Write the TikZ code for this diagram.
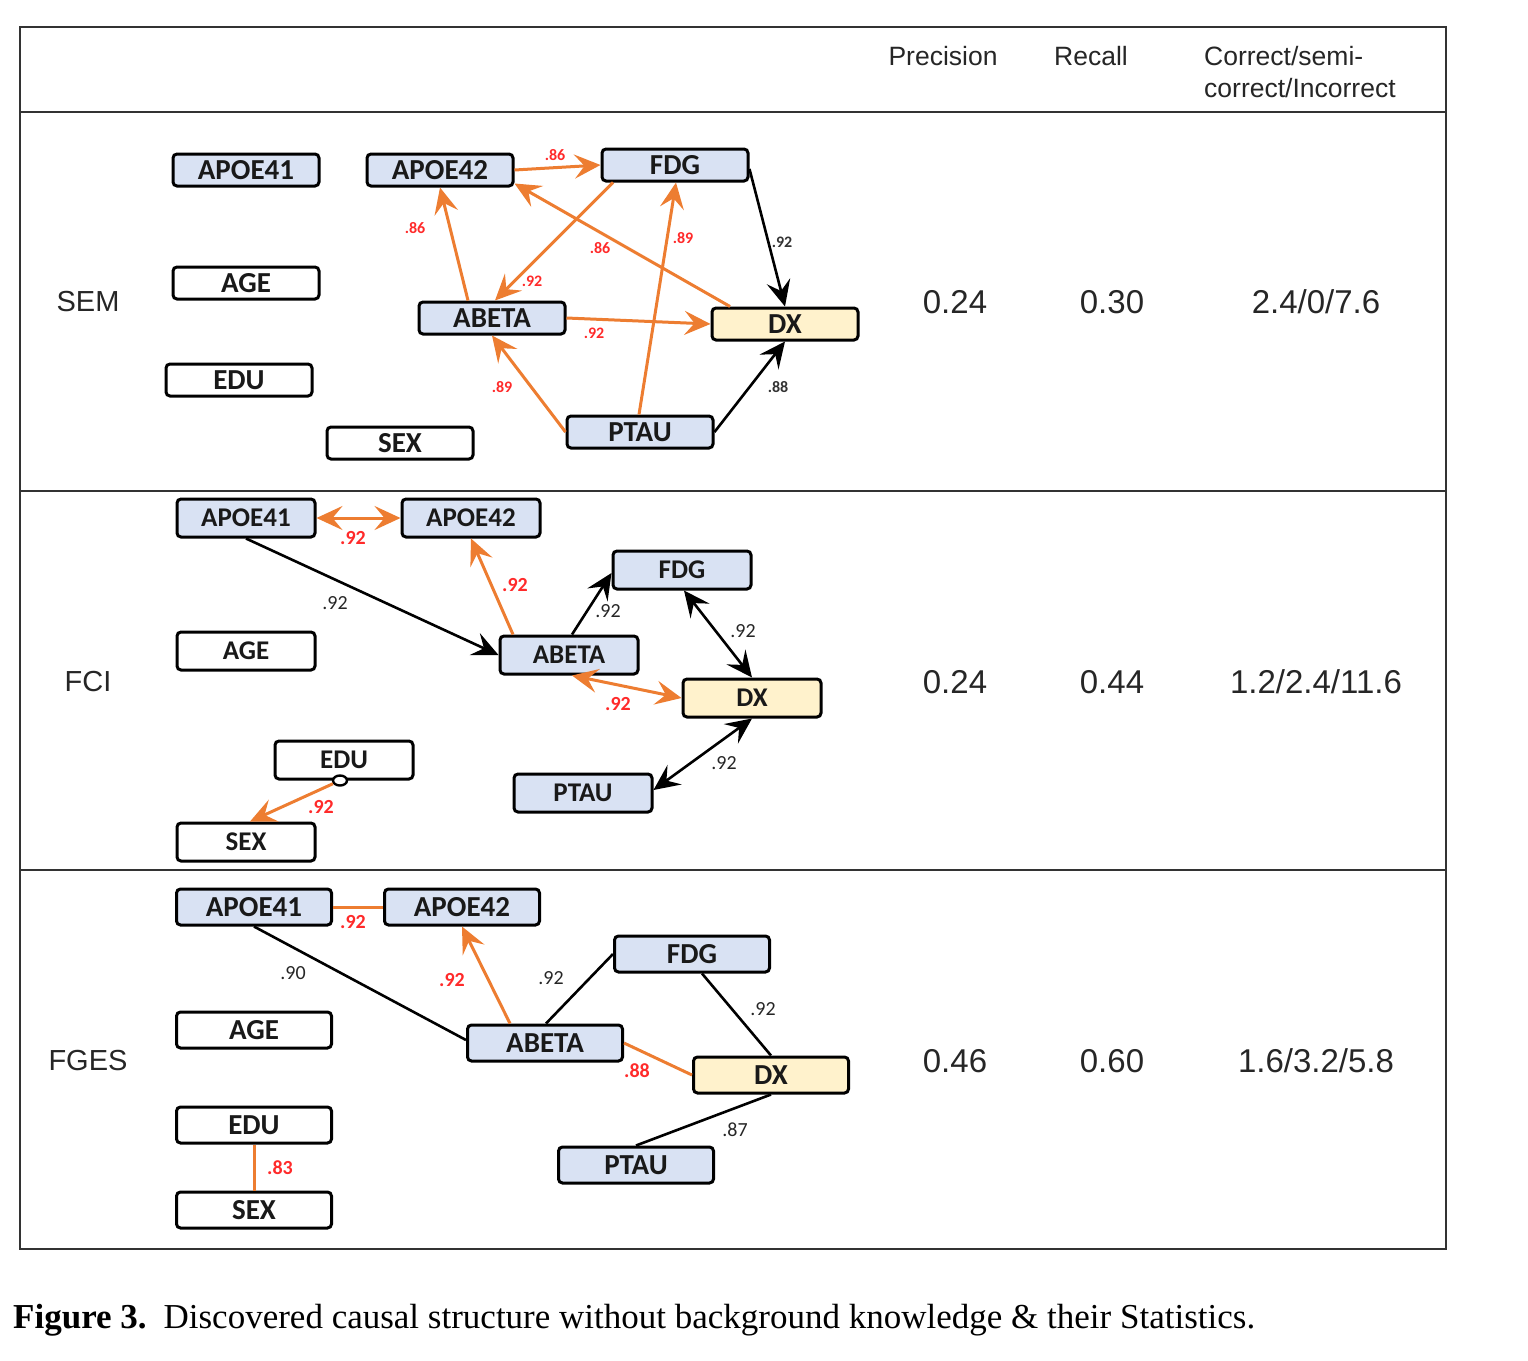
\documentclass[tikz,border=0pt]{standalone}
\usepackage{fontspec}
\setmainfont{Liberation Serif}
\setsansfont{Liberation Sans}
\newfontfamily\nodefont{Carlito}
\usetikzlibrary{arrows.meta,shapes.geometric}
\definecolor{orng}{HTML}{ED7D31}
\definecolor{nblue}{HTML}{D9E2F3}
\definecolor{nyel}{HTML}{FFF2CC}
\definecolor{lred}{HTML}{FF2A2A}
\definecolor{frm}{HTML}{333333}
\tikzset{
  vbox/.style={draw=black, line width=3pt, rounded corners=4pt, inner sep=0pt, font=\nodefont\bfseries\fontsize{29}{29}\selectfont, text=black!90},
  bl/.style={vbox, fill=nblue},
  ye/.style={vbox, fill=nyel},
  wh/.style={vbox, fill=white},
  semb/.style={minimum width=146pt, minimum height=32pt},
  fcib/.style={minimum width=138pt, minimum height=38pt, font=\nodefont\bfseries\fontsize{27}{27}\selectfont},
  fgesb/.style={minimum width=155pt, minimum height=36pt},
  oe/.style={draw=orng, line width=3pt},
  be/.style={draw=black, line width=2.6pt},
  tip/.style={-{Stealth[length=26pt,width=24pt,inset=10pt]}},
  dtip/.style={{Stealth[length=26pt,width=24pt,inset=10pt]}-{Stealth[length=26pt,width=24pt,inset=10pt]}},
  rl/.style={text=lred, font=\nodefont\bfseries\fontsize{16}{16}\selectfont, inner sep=0pt},
  kl/.style={text=black!80, font=\nodefont\bfseries\fontsize{16}{16}\selectfont, inner sep=0pt},
  rlb/.style={text=lred, font=\nodefont\bfseries\fontsize{20}{20}\selectfont, inner sep=0pt},
  klb/.style={text=black!85, font=\nodefont\fontsize{20}{20}\selectfont, inner sep=0pt},
  hd/.style={font=\sffamily\fontsize{26.5}{32}\selectfont, text=black!85, inner sep=0pt},
  val/.style={font=\sffamily\fontsize{33}{33}\selectfont, text=black!85, inner sep=0pt},
  rowl/.style={font=\sffamily\fontsize{29}{29}\selectfont, text=black!85, inner sep=0pt},
  frame/.style={draw=frm, line width=2.5pt}
}
\begin{document}
\begin{tikzpicture}[x=1pt,y=-1pt]
\useasboundingbox (0,0) rectangle (1528,1360);
% frame
\draw[frame] (20,27) rectangle (1446,1249);
\draw[frame] (20,112) -- (1446,112);
\draw[frame] (20,491) -- (1446,491);
\draw[frame] (20,870) -- (1446,870);
% header
\node[hd] (hprec) at (943,56) {Precision};
\node[hd] (hrec) at (1091,56) {Recall};
\node[hd, anchor=west, align=left] (hcor) at (1204,72) {Correct/semi-\\correct/Incorrect};
% row labels and values
\node[rowl] (rsem) at (88,302) {SEM};
\node[rowl] (rfci) at (88,682) {FCI};
\node[rowl] (rfges) at (88,1061) {FGES};
\node[val] (v11) at (955,302) {0.24};
\node[val] (v12) at (1112,302) {0.30};
\node[val] (v13) at (1316,302) {2.4/0/7.6};
\node[val] (v21) at (955,682) {0.24};
\node[val] (v22) at (1112,682) {0.44};
\node[val] (v23) at (1316,682) {1.2/2.4/11.6};
\node[val] (v31) at (955,1061) {0.46};
\node[val] (v32) at (1112,1061) {0.60};
\node[val] (v33) at (1316,1061) {1.6/3.2/5.8};

% ---------- SEM ----------
\node[bl,semb] (s41) at (246,170) {APOE41};
\node[bl,semb] (s42) at (440,170) {APOE42};
\node[bl,semb] (sfdg) at (675,165) {FDG};
\node[wh,semb] (sage) at (246,283) {AGE};
\node[bl,semb] (sab) at (492,318) {ABETA};
\node[ye,semb] (sdx) at (785,324) {DX};
\node[wh,semb] (sedu) at (239,380) {EDU};
\node[wh,semb] (ssex) at (400,443) {SEX};
\node[bl,semb] (spt) at (640,432) {PTAU};

\draw[oe,tip] (s42.east) -- (sfdg.west);
\draw[oe,tip] ([xshift=-24pt]sab.north) -- (s42.south);
\draw[oe,tip] ([xshift=-62pt]sfdg.south) -- ([xshift=3pt]sab.north);
\draw[oe,tip] ([xshift=-55pt]sdx.north) -- ([yshift=4pt]s42.south east);
\draw[oe,tip] ([xshift=-1pt]spt.north) -- ([xshift=1pt]sfdg.south);
\draw[be,tip] ([yshift=-4pt]sfdg.east) -- (sdx.north);
\draw[oe,tip] (sab.east) -- (sdx.west);
\draw[oe,tip] (spt.west) -- (sab.south);
\draw[be,tip] (spt.east) -- (sdx.south);

\node[rl] (ls1) at (555,155) {.86};
\node[rl] (ls2) at (415,228) {.86};
\node[rl] (ls3) at (532,281) {.92};
\node[rl] (ls4) at (600,248) {.86};
\node[rl] (ls5) at (683,238) {.89};
\node[kl] (ls6) at (782,242) {.92};
\node[rl] (ls7) at (594,333) {.92};
\node[rl] (ls8) at (502,387) {.89};
\node[kl] (ls9) at (778,387) {.88};

% ---------- FCI ----------
\node[bl,fcib] (f41) at (246,518) {APOE41};
\node[bl,fcib] (f42) at (471,518) {APOE42};
\node[bl,fcib] (ffdg) at (682,570) {FDG};
\node[wh,fcib] (fage) at (246,651) {AGE};
\node[bl,fcib] (fab) at (569,655) {ABETA};
\node[ye,fcib] (fdx) at (752,698) {DX};
\node[wh,fcib] (fedu) at (344,760) {EDU};
\node[bl,fcib] (fpt) at (583,793) {PTAU};
\node[wh,fcib] (fsex) at (246,842) {SEX};

\draw[oe,dtip] (f41.east) -- (f42.west);
\draw[be,tip] (f41.south) -- (fab.west);
\draw[oe,tip] ([xshift=-56pt]fab.north) -- (f42.south);
\draw[be,tip] ([xshift=3pt]fab.north) -- ([yshift=-3pt]ffdg.west);
\draw[be,dtip] ([xshift=2pt]ffdg.south) -- (fdx.north);
\draw[oe,dtip] ([xshift=3pt]fab.south) -- (fdx.west);
\draw[be,dtip] (fdx.south) -- ([yshift=3pt]fpt.east);
\node[draw=black, line width=2.4pt, fill=white, ellipse, minimum width=14pt, minimum height=10pt, inner sep=0pt] (fcirc) at ([xshift=-4pt]fedu.south) {};
\draw[oe,tip] (fcirc) -- ([xshift=4pt]fsex.north);

\node[rlb] (lf1) at (353,538) {.92};
\node[klb] (lf2) at (335,603) {.92};
\node[rlb] (lf3) at (515,585) {.92};
\node[klb] (lf4) at (608,611) {.92};
\node[klb] (lf5) at (743,631) {.92};
\node[rlb] (lf6) at (618,704) {.92};
\node[klb] (lf7) at (724,763) {.92};
\node[rlb] (lf8) at (321,807) {.92};

% ---------- FGES ----------
\node[bl,fgesb] (g41) at (254,907) {APOE41};
\node[bl,fgesb] (g42) at (462,907) {APOE42};
\node[bl,fgesb] (gfdg) at (692,954) {FDG};
\node[wh,fgesb] (gage) at (254,1030) {AGE};
\node[bl,fgesb] (gab) at (545,1043) {ABETA};
\node[ye,fgesb] (gdx) at (771,1075) {DX};
\node[wh,fgesb] (gedu) at (254,1125) {EDU};
\node[bl,fgesb] (gpt) at (636,1165) {PTAU};
\node[wh,fgesb] (gsex) at (254,1210) {SEX};

\draw[oe] (g41.east) -- (g42.west);
\draw[be] (g41.south) -- ([yshift=3pt]gab.west);
\draw[oe,tip] ([xshift=-35pt]gab.north) -- (g42.south);
\draw[be] ([xshift=1pt]gab.north) -- (gfdg.west);
\draw[be] ([xshift=10pt]gfdg.south) -- (gdx.north);
\draw[oe] (gab.east) -- (gdx.west);
\draw[be] (gdx.south) -- (gpt.north);
\draw[oe] (gedu.south) -- (gsex.north);

\node[rlb] (lg1) at (353,922) {.92};
\node[klb] (lg2) at (293,973) {.90};
\node[rlb] (lg3) at (452,980) {.92};
\node[klb] (lg4) at (551,978) {.92};
\node[klb] (lg5) at (763,1009) {.92};
\node[rlb] (lg6) at (637,1071) {.88};
\node[klb] (lg7) at (735,1130) {.87};
\node[rlb] (lg8) at (280,1168) {.83};

% caption
\node[anchor=west, inner sep=0pt, font=\fontsize{35}{35}\selectfont] (cap) at (13,1320) {\textbf{Figure 3.}\hspace{0.15em} Discovered causal structure without background knowledge \& their Statistics.};
\end{tikzpicture}
\end{document}
